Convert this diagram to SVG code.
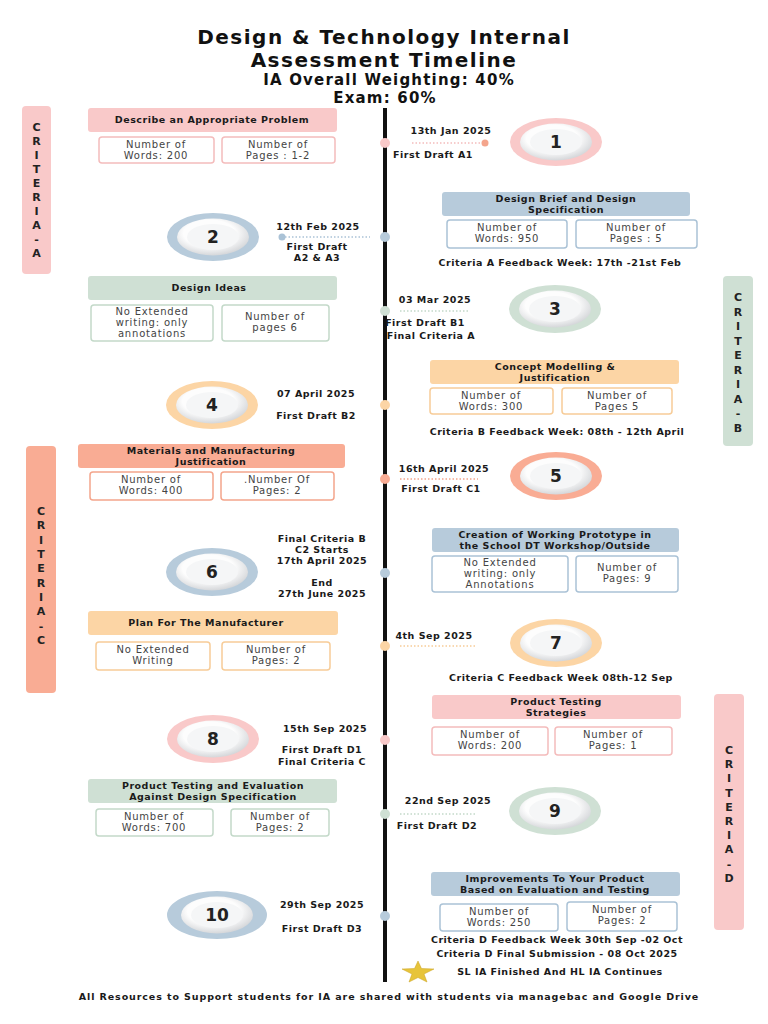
<svg xmlns="http://www.w3.org/2000/svg" width="768" height="1024" viewBox="0 0 768 1024">
<style>
.h{font-family:"DejaVu Sans",sans-serif;font-weight:700;fill:#111;text-anchor:middle}
.t{font-family:"DejaVu Sans",sans-serif;font-weight:700;font-size:9.5px;letter-spacing:0.5px;fill:#1a1a1a;text-anchor:middle}
.b{font-family:"DejaVu Sans",sans-serif;font-size:10px;letter-spacing:0.8px;fill:#444;text-anchor:middle}
.n{font-family:"DejaVu Sans",sans-serif;font-weight:700;font-size:17px;fill:#222;text-anchor:middle}
.l{font-family:"DejaVu Sans",sans-serif;font-weight:700;font-size:11px;fill:#222;text-anchor:middle}
.bx{fill:#fff;stroke-width:1.5}
.pk{fill:#f9c9c9}.bl{fill:#b7cbdb}.gr{fill:#cfe0d4}.or{fill:#fcd5a5}.sa{fill:#f9ac94}
.spk{stroke:#f4bcbc}.sbl{stroke:#aac2d6}.sgr{stroke:#c3d9c9}.sor{stroke:#f7cc98}.ssa{stroke:#f4a58c}
.dl{stroke-width:1.5;stroke-dasharray:1.5 2}
</style>
<defs>
<radialGradient id="w" cx="0.45" cy="0.4" r="0.6"><stop offset="0.6" stop-color="#fdfdfd"/><stop offset="1" stop-color="#d5d7da"/></radialGradient>
<g id="c"><ellipse rx="36" ry="18.5" fill="url(#w)"/><ellipse rx="26" ry="13" fill="#f5f6f7"/></g>
</defs>
<rect width="768" height="1024" fill="#fff"/>
<g id="title">
<text class="h" x="384" y="44" font-size="20" style="letter-spacing:1.5px">Design &amp; Technology Internal</text>
<text class="h" x="384" y="67" font-size="20" style="letter-spacing:1.5px">Assessment Timeline</text>
<text class="h" x="389" y="85" font-size="15" style="letter-spacing:1.2px">IA Overall Weighting: 40%</text>
<text class="h" x="385" y="103" font-size="15" style="letter-spacing:1.2px">Exam: 60%</text>
</g>
<g id="timeline"><line x1="385" y1="108" x2="385" y2="982" stroke="#111" stroke-width="4"/></g>
<g id="bars">
<rect class="pk" x="22" y="106" width="29" height="168" rx="4"/>
<text class="l"><tspan x="36.5" y="131">C</tspan><tspan x="36.5" y="145">R</tspan><tspan x="36.5" y="159">I</tspan><tspan x="36.5" y="173">T</tspan><tspan x="36.5" y="187">E</tspan><tspan x="36.5" y="201">R</tspan><tspan x="36.5" y="215">I</tspan><tspan x="36.5" y="229">A</tspan><tspan x="36.5" y="243">-</tspan><tspan x="36.5" y="257">A</tspan></text>
<rect class="gr" x="723" y="276" width="30" height="170" rx="4"/>
<text class="l"><tspan x="738" y="301">C</tspan><tspan x="738" y="315.5">R</tspan><tspan x="738" y="330">I</tspan><tspan x="738" y="344.5">T</tspan><tspan x="738" y="359">E</tspan><tspan x="738" y="373.5">R</tspan><tspan x="738" y="388">I</tspan><tspan x="738" y="402.5">A</tspan><tspan x="738" y="417">-</tspan><tspan x="738" y="431.5">B</tspan></text>
<rect class="sa" x="26" y="446" width="30" height="247" rx="4"/>
<text class="l"><tspan x="41" y="515">C</tspan><tspan x="41" y="529.3">R</tspan><tspan x="41" y="543.6">I</tspan><tspan x="41" y="558">T</tspan><tspan x="41" y="572.3">E</tspan><tspan x="41" y="586.6">R</tspan><tspan x="41" y="601">I</tspan><tspan x="41" y="615.3">A</tspan><tspan x="41" y="629.6">-</tspan><tspan x="41" y="644">C</tspan></text>
<rect class="pk" x="714" y="694" width="30" height="236" rx="4"/>
<text class="l"><tspan x="729" y="754">C</tspan><tspan x="729" y="768.2">R</tspan><tspan x="729" y="782.4">I</tspan><tspan x="729" y="796.6">T</tspan><tspan x="729" y="810.8">E</tspan><tspan x="729" y="825">R</tspan><tspan x="729" y="839.2">I</tspan><tspan x="729" y="853.4">A</tspan><tspan x="729" y="867.6">-</tspan><tspan x="729" y="881.8">D</tspan></text>
</g>
<g id="connectors">
<circle class="pk" cx="385" cy="143" r="5"/><line class="dl spk" x1="412" y1="143" x2="482" y2="143"/><circle fill="#f4a58c" cx="485" cy="143" r="3.5"/>
<circle class="bl" cx="385" cy="237" r="5"/><line class="dl sbl" x1="285" y1="237" x2="370" y2="237"/><circle fill="#aac2d6" cx="282" cy="237" r="3.5"/>
<circle class="gr" cx="385" cy="311" r="5"/><line class="dl sgr" x1="400" y1="311" x2="470" y2="311"/>
<circle class="or" cx="385" cy="405" r="5"/>
<circle class="sa" cx="385" cy="479" r="5"/><line class="dl ssa" x1="400" y1="479" x2="478" y2="479"/>
<circle class="bl" cx="385" cy="573" r="5"/>
<circle class="or" cx="385" cy="646" r="5"/><line class="dl sor" x1="400" y1="646" x2="475" y2="646"/>
<circle class="pk" cx="385" cy="740" r="5"/>
<circle class="gr" cx="385" cy="814" r="5"/><line class="dl sgr" x1="400" y1="814" x2="475" y2="814"/>
<circle class="bl" cx="385" cy="916" r="5"/>
</g>
<g id="n1">
<rect class="pk" x="88" y="108" width="249" height="24" rx="3"/><text class="t" x="212" y="123">Describe an Appropriate Problem</text>
<rect class="bx spk" x="99" y="137" width="115" height="26" rx="3"/><text class="b" x="156" y="148">Number of<tspan x="156" dy="11">Words: 200</tspan></text>
<rect class="bx spk" x="222" y="137" width="113" height="26" rx="3"/><text class="b" x="278" y="148">Number of<tspan x="278" dy="11">Pages : 1-2</tspan></text>
<text class="t" x="451" y="134">13th Jan 2025</text><text class="t" x="433" y="158">First Draft A1</text>
<ellipse class="pk" cx="556" cy="142" rx="46" ry="24"/><use href="#c" x="556" y="142"/><text class="n" x="556" y="148">1</text>
</g>
<g id="n2">
<ellipse class="bl" cx="213" cy="237" rx="46" ry="24"/><use href="#c" x="213" y="237"/><text class="n" x="213" y="243">2</text>
<text class="t" x="318" y="230">12th Feb 2025</text><text class="t" x="317" y="250">First Draft<tspan x="317" dy="11">A2 &amp; A3</tspan></text>
<rect class="bl" x="442" y="192" width="248" height="24" rx="3"/><text class="t" x="566" y="202">Design Brief and Design<tspan x="566" dy="11">Specification</tspan></text>
<rect class="bx sbl" x="447" y="220" width="120" height="28" rx="3"/><text class="b" x="507" y="231">Number of<tspan x="507" dy="11">Words: 950</tspan></text>
<rect class="bx sbl" x="576" y="220" width="121" height="28" rx="3"/><text class="b" x="636" y="231">Number of<tspan x="636" dy="11">Pages : 5</tspan></text>
<text class="t" x="560" y="266">Criteria A Feedback Week: 17th -21st Feb</text>
</g>
<g id="n3">
<rect class="gr" x="88" y="276" width="249" height="24" rx="3"/><text class="t" x="209" y="291">Design Ideas</text>
<rect class="bx sgr" x="91" y="305" width="122" height="36" rx="3"/><text class="b" x="152" y="315">No Extended<tspan x="152" dy="11">writing: only</tspan><tspan x="152" dy="11">annotations</tspan></text>
<rect class="bx sgr" x="222" y="305" width="107" height="36" rx="3"/><text class="b" x="275" y="320">Number of<tspan x="275" dy="11">pages 6</tspan></text>
<text class="t" x="435" y="303">03 Mar 2025</text><text class="t" x="425" y="326">First Draft B1</text><text class="t" x="431" y="339">Final Criteria A</text>
<ellipse class="gr" cx="555" cy="309" rx="46" ry="24"/><use href="#c" x="555" y="309"/><text class="n" x="555" y="315">3</text>
</g>
<g id="n4">
<ellipse class="or" cx="212" cy="405" rx="46" ry="24"/><use href="#c" x="212" y="405"/><text class="n" x="212" y="411">4</text>
<text class="t" x="316" y="397">07 April 2025</text><text class="t" x="316" y="419">First Draft B2</text>
<rect class="or" x="430" y="360" width="249" height="24" rx="3"/><text class="t" x="555" y="370">Concept Modelling &amp;<tspan x="555" dy="11">Justification</tspan></text>
<rect class="bx sor" x="430" y="388" width="123" height="26" rx="3"/><text class="b" x="491" y="399">Number of<tspan x="491" dy="11">Words: 300</tspan></text>
<rect class="bx sor" x="562" y="388" width="110" height="26" rx="3"/><text class="b" x="617" y="399">Number of<tspan x="617" dy="11">Pages 5</tspan></text>
<text class="t" x="557" y="435">Criteria B Feedback Week: 08th - 12th April</text>
</g>
<g id="n5">
<rect class="sa" x="78" y="444" width="267" height="24" rx="3"/><text class="t" x="211" y="454">Materials and Manufacturing<tspan x="211" dy="11">Justification</tspan></text>
<rect class="bx ssa" x="90" y="472" width="123" height="28" rx="3"/><text class="b" x="151" y="483">Number of<tspan x="151" dy="11">Words: 400</tspan></text>
<rect class="bx ssa" x="221" y="472" width="113" height="28" rx="3"/><text class="b" x="277" y="483">.Number Of<tspan x="277" dy="11">Pages: 2</tspan></text>
<text class="t" x="444" y="472">16th April 2025</text><text class="t" x="441" y="492">First Draft C1</text>
<ellipse class="sa" cx="556" cy="476" rx="46" ry="24"/><use href="#c" x="556" y="476"/><text class="n" x="556" y="482">5</text>
</g>
<g id="n6">
<ellipse class="bl" cx="212" cy="572" rx="46" ry="24"/><use href="#c" x="212" y="572"/><text class="n" x="212" y="578">6</text>
<text class="t" x="322" y="542">Final Criteria B<tspan x="322" dy="11">C2 Starts</tspan><tspan x="322" dy="11">17th April 2025</tspan><tspan x="322" dy="22">End</tspan><tspan x="322" dy="11">27th June 2025</tspan></text>
<rect class="bl" x="432" y="528" width="247" height="24" rx="3"/><text class="t" x="555" y="538">Creation of Working Prototype in<tspan x="555" dy="11">the School DT Workshop/Outside</tspan></text>
<rect class="bx sbl" x="432" y="556" width="136" height="36" rx="3"/><text class="b" x="500" y="566">No Extended<tspan x="500" dy="11">writing: only</tspan><tspan x="500" dy="11">Annotations</tspan></text>
<rect class="bx sbl" x="576" y="556" width="102" height="36" rx="3"/><text class="b" x="627" y="571">Number of<tspan x="627" dy="11">Pages: 9</tspan></text>
</g>
<g id="n7">
<rect class="or" x="88" y="611" width="250" height="24" rx="3"/><text class="t" x="206" y="626">Plan For The Manufacturer</text>
<rect class="bx sor" x="96" y="642" width="114" height="28" rx="3"/><text class="b" x="153" y="653">No Extended<tspan x="153" dy="11">Writing</tspan></text>
<rect class="bx sor" x="222" y="642" width="108" height="28" rx="3"/><text class="b" x="276" y="653">Number of<tspan x="276" dy="11">Pages: 2</tspan></text>
<text class="t" x="434" y="639">4th Sep 2025</text>
<ellipse class="or" cx="556" cy="643" rx="46" ry="24"/><use href="#c" x="556" y="643"/><text class="n" x="556" y="649">7</text>
<text class="t" x="561" y="681">Criteria C Feedback Week 08th-12 Sep</text>
</g>
<g id="n8">
<ellipse class="pk" cx="213" cy="739" rx="46" ry="24"/><use href="#c" x="213" y="739"/><text class="n" x="213" y="745">8</text>
<text class="t" x="325" y="732">15th Sep 2025</text><text class="t" x="322" y="753">First Draft D1</text><text class="t" x="322" y="765">Final Criteria C</text>
<rect class="pk" x="432" y="695" width="249" height="24" rx="3"/><text class="t" x="556" y="705">Product Testing<tspan x="556" dy="11">Strategies</tspan></text>
<rect class="bx spk" x="432" y="727" width="116" height="28" rx="3"/><text class="b" x="490" y="738">Number of<tspan x="490" dy="11">Words: 200</tspan></text>
<rect class="bx spk" x="555" y="727" width="117" height="28" rx="3"/><text class="b" x="613" y="738">Number of<tspan x="613" dy="11">Pages: 1</tspan></text>
</g>
<g id="n9">
<rect class="gr" x="88" y="779" width="249" height="24" rx="3"/><text class="t" x="213" y="789">Product Testing and Evaluation<tspan x="213" dy="11">Against Design Specification</tspan></text>
<rect class="bx sgr" x="96" y="809" width="117" height="27" rx="3"/><text class="b" x="154" y="820">Number of<tspan x="154" dy="11">Words: 700</tspan></text>
<rect class="bx sgr" x="231" y="809" width="98" height="27" rx="3"/><text class="b" x="280" y="820">Number of<tspan x="280" dy="11">Pages: 2</tspan></text>
<text class="t" x="448" y="804">22nd Sep 2025</text><text class="t" x="437" y="829">First Draft D2</text>
<ellipse class="gr" cx="555" cy="811" rx="46" ry="24"/><use href="#c" x="555" y="811"/><text class="n" x="555" y="817">9</text>
</g>
<g id="n10">
<ellipse class="bl" cx="217" cy="915" rx="50" ry="24"/><use href="#c" x="217" y="915"/><text class="n" x="217" y="921">10</text>
<text class="t" x="322" y="908">29th Sep 2025</text><text class="t" x="322" y="932">First Draft D3</text>
<rect class="bl" x="431" y="872" width="249" height="24" rx="3"/><text class="t" x="555" y="882">Improvements To Your Product<tspan x="555" dy="11">Based on Evaluation and Testing</tspan></text>
<rect class="bx sbl" x="440" y="904" width="118" height="27" rx="3"/><text class="b" x="499" y="915">Number of<tspan x="499" dy="11">Words: 250</tspan></text>
<rect class="bx sbl" x="567" y="902" width="110" height="29" rx="3"/><text class="b" x="622" y="913">Number of<tspan x="622" dy="11">Pages: 2</tspan></text>
<text class="t" x="557" y="943">Criteria D Feedback Week 30th Sep -02 Oct</text>
<text class="t" x="557" y="957">Criteria D Final Submission - 08 Oct 2025</text>
<polygon points="418,961 421.5,968.5 434,969 424,974 427,982 418,977.5 409,982 412,974 402,969 414.5,968.5" fill="#e7c43a" stroke="#c9a020" stroke-width="0.5"/>
<text class="t" x="560" y="975">SL IA Finished  And HL IA Continues</text>
</g>
<g id="footer"><text class="t" x="389" y="1000" style="letter-spacing:0.9px">All  Resources to Support students for IA  are shared with students via managebac and Google Drive</text></g>
</svg>
